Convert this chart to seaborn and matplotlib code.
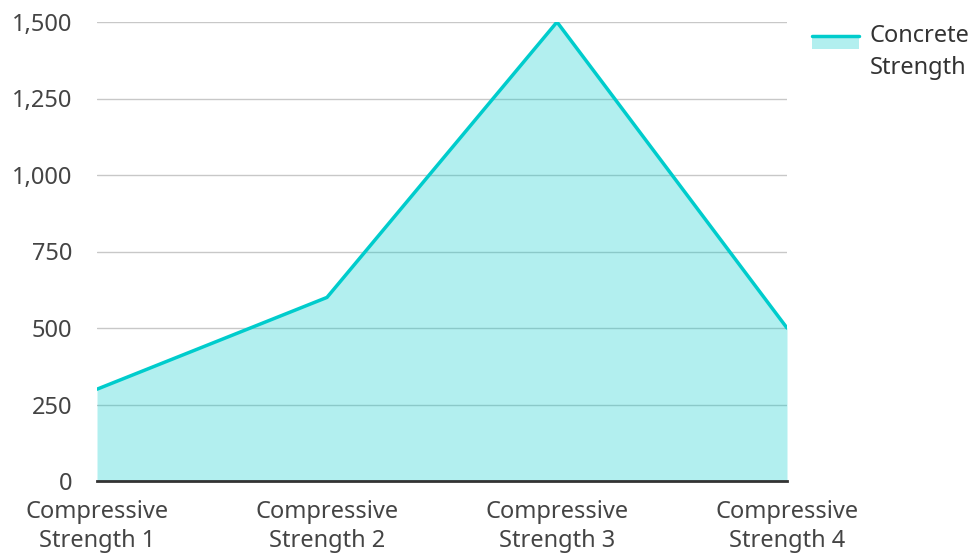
import matplotlib
matplotlib.use("Agg")
import matplotlib.pyplot as plt
import seaborn as sns
import pandas as pd
from matplotlib.legend_handler import HandlerBase
from matplotlib.patches import Rectangle
from matplotlib.lines import Line2D
from matplotlib.ticker import FuncFormatter

categories = ["Compressive\nStrength 1", "Compressive\nStrength 2",
              "Compressive\nStrength 3", "Compressive\nStrength 4"]
values = [300, 600, 1500, 500]
series_name = "Concrete\nStrength"
y_ticks = [0, 250, 500, 750, 1000, 1250, 1500]

LINE = "#00cccc"
FILL_ALPHA = 0.3

sns.set_style("white")
plt.rcParams["font.family"] = ["Noto Sans", "DejaVu Sans"]

df = pd.DataFrame({"x": range(len(categories)), "y": values})

fig = plt.figure(figsize=(9.74, 5.53), dpi=100)
ax = fig.add_axes([97 / 974, 72 / 553, 690 / 974, 459 / 553])

ax.grid(axis="y", color="#c8c8c8", linewidth=1, zorder=1)
ax.fill_between(df["x"], df["y"], 0, color=LINE, alpha=FILL_ALPHA,
                linewidth=0, zorder=2)
sns.lineplot(data=df, x="x", y="y", ax=ax, color=LINE, linewidth=2.5, zorder=3)

ax.set_xlim(0, len(categories) - 1)
ax.set_ylim(0, 1500)
ax.set_yticks(y_ticks)
ax.yaxis.set_major_formatter(FuncFormatter(lambda v, p: f"{int(v):,}"))
ax.set_xticks(range(len(categories)))
ax.set_xticklabels(categories, linespacing=1.25)
ax.set_xlabel("")
ax.set_ylabel("")

ax.set_axisbelow(True)
for s in ("top", "right", "left"):
    ax.spines[s].set_visible(False)
ax.spines["bottom"].set_color("#333333")
ax.spines["bottom"].set_linewidth(2)
ax.spines["bottom"].set_zorder(4)
ax.tick_params(axis="both", length=0, labelsize=17, colors="#444444")
ax.tick_params(axis="y", pad=18)
ax.tick_params(axis="x", pad=14)


class AreaHandler(HandlerBase):
    """Legend key: a filled band with the series line along its top edge,
    sitting level with the first line of the label."""
    def create_artists(self, legend, orig_handle, xdescent, ydescent,
                       width, height, fontsize, trans):
        c = -ydescent + height / 2
        rect = Rectangle((-xdescent, c + 3.0), width, 8.0,
                         facecolor=LINE, alpha=FILL_ALPHA, edgecolor="none",
                         transform=trans)
        line = Line2D([-xdescent, -xdescent + width], [c + 12.4, c + 12.4],
                      color=LINE, linewidth=2.5, transform=trans)
        return [rect, line]


handle = Rectangle((0, 0), 1, 1)
leg = fig.legend([handle], [series_name], handler_map={Rectangle: AreaHandler()},
                 loc="upper left", bbox_to_anchor=(812 / 974, 1 - 24 / 553),
                 frameon=False, fontsize=17, handlelength=2.0, handleheight=0.9,
                 handletextpad=0.45, borderaxespad=0, borderpad=0)
for t in leg.get_texts():
    t.set_color("#333333")
    t.set_linespacing(1.45)

fig.savefig("out.png", dpi=100)
